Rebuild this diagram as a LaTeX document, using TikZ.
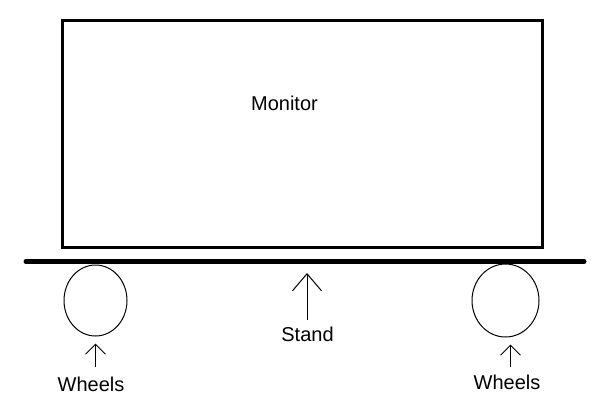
\documentclass[tikz,border=0pt]{standalone}
\usepackage{fontspec}
\setmainfont{Liberation Sans}
\usetikzlibrary{arrows.meta, shapes.geometric, positioning}

\tikzset{
  labeltext/.style={font=\fontsize{20}{24}\selectfont, inner sep=0pt},
  wheel/.style={draw, ellipse, line width=1pt, inner sep=0pt},
  pointer/.style={line width=1pt, -{Straight Barb[length=10pt, width=20pt]}},
}

\begin{document}
\begin{tikzpicture}[x=1pt, y=-1pt]
  \useasboundingbox[fill=white] (0,0) rectangle (591,400);

  % Monitor box
  \node[draw, line width=3pt, minimum width=479.5pt, minimum height=226.8pt, inner sep=0pt]
      (monitor) at (302.3,134.1) {};
  \node[labeltext] (monitorlabel) at (284.5,103) {Monitor};

  % Stand bar
  \coordinate (standL) at (26,261.5);
  \coordinate (standR) at (584,261.5);
  \coordinate (standmid) at (307,261.5);
  \draw[line width=5pt, line cap=round] (standL) -- (standR);

  % Wheels
  \node[wheel, minimum width=63pt, minimum height=71pt] (wheelL) at (95.5,300.5) {};
  \node[wheel, minimum width=67pt, minimum height=73pt] (wheelR) at (505.5,300.5) {};

  % Labels
  \node[labeltext] (wheelsL) at (91,384.5) {Wheels};
  \node[labeltext] (wheelsR) at (507,382) {Wheels};
  \node[labeltext] (standlabel) at (307.5,334.5) {Stand};

  % Pointers
  \draw[pointer, shorten <=10pt, shorten >=7pt] (wheelL.south |- wheelsL.north) -- (wheelL.south);
  \draw[pointer, shorten <=7pt, shorten >=7pt] ([xshift=5pt]wheelR.south |- wheelsR.north) -- ([xshift=5pt]wheelR.south);
  \draw[pointer, -{Straight Barb[length=17pt, width=29pt]}, shorten <=7pt, shorten >=11.5pt]
      (standmid |- standlabel.north) -- (standmid);
\end{tikzpicture}
\end{document}
